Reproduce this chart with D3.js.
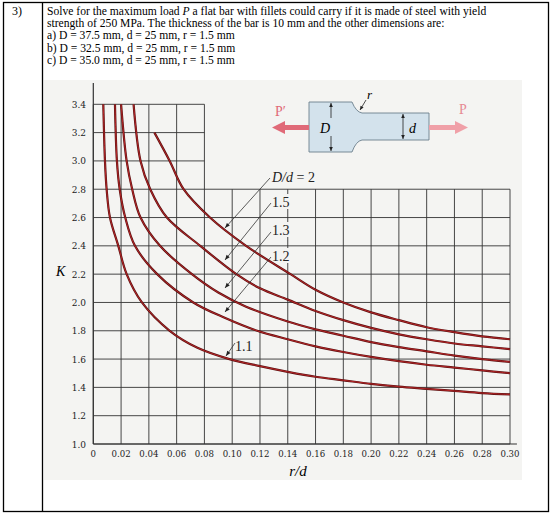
<!DOCTYPE html>
<html><head><meta charset="utf-8">
<script src="https://cdn.jsdelivr.net/npm/d3@7/dist/d3.min.js"></script>
<style>body{margin:0;background:#fff}svg{display:block}</style>
</head><body><svg id="c" width="557" height="527"></svg>
<script>
const problemLines = [
  "Solve for the maximum load P a flat bar with fillets could carry if it is made of steel with yield",
  "strength of 250 MPa. The thickness of the bar is 10 mm and the other dimensions are:",
  "a) D = 37.5 mm, d = 25 mm, r = 1.5 mm",
  "b) D = 32.5 mm, d = 25 mm, r = 1.5 mm",
  "c) D = 35.0 mm, d = 25 mm, r = 1.5 mm"
];
const xTicks = [0,0.02,0.04,0.06,0.08,0.10,0.12,0.14,0.16,0.18,0.20,0.22,0.24,0.26,0.28,0.30];
const xTickLabels = ["0","0.02","0.04","0.06","0.08","0.10","0.12","0.14","0.16","0.18","0.20","0.22","0.24","0.26","0.28","0.30"];
const yTicks = [1.0,1.2,1.4,1.6,1.8,2.0,2.2,2.4,2.6,2.8,3.0,3.2,3.4];
const seriesNames = ["D/d = 2","1.5","1.3","1.2","1.1"];
const s2  = [[0.044,3.2],[0.055,3.0],[0.065,2.8],[0.084,2.6],[0.11,2.4],[0.142,2.2],[0.16,2.09],[0.18,2.0],[0.20,1.93],[0.22,1.875],[0.24,1.825],[0.26,1.79],[0.28,1.76],[0.30,1.74]];
const s15 = [[0.029,3.4],[0.034,3.0],[0.041,2.8],[0.053,2.6],[0.077,2.4],[0.103,2.2],[0.12,2.1],[0.14,2.02],[0.16,1.94],[0.18,1.875],[0.20,1.82],[0.22,1.775],[0.24,1.74],[0.26,1.71],[0.28,1.69],[0.30,1.67]];
const s13 = [[0.020,3.4],[0.024,3.0],[0.028,2.8],[0.034,2.6],[0.048,2.4],[0.071,2.2],[0.09,2.07],[0.11,1.97],[0.14,1.865],[0.16,1.81],[0.18,1.765],[0.20,1.72],[0.22,1.685],[0.24,1.655],[0.26,1.625],[0.28,1.60],[0.30,1.58]];
const s12 = [[0.0156,3.4],[0.017,3.0],[0.019,2.8],[0.023,2.6],[0.030,2.4],[0.046,2.2],[0.072,2.0],[0.095,1.89],[0.118,1.8],[0.14,1.74],[0.16,1.69],[0.18,1.65],[0.20,1.615],[0.22,1.585],[0.24,1.56],[0.26,1.54],[0.28,1.52],[0.30,1.50]];
const s11 = [[0.0072,3.4],[0.0084,3.0],[0.0096,2.8],[0.012,2.6],[0.018,2.4],[0.024,2.2],[0.035,2.0],[0.055,1.8],[0.075,1.68],[0.098,1.6],[0.12,1.55],[0.14,1.51],[0.16,1.475],[0.18,1.45],[0.20,1.425],[0.22,1.405],[0.24,1.39],[0.26,1.375],[0.28,1.36],[0.30,1.35]];
const series = [s2,s15,s13,s12,s11];

const tf="'Times New Roman','Liberation Serif',serif";
const svg = d3.select("#c");
svg.append("rect").attr("x",3.5).attr("y",2.5).attr("width",545).attr("height",509).attr("fill","none").attr("stroke","#000").attr("stroke-width",1.3);
svg.append("line").attr("x1",42.5).attr("x2",42.5).attr("y1",2.5).attr("y2",511.5).attr("stroke","#000").attr("stroke-width",1.3);
svg.append("text").attr("x",12).attr("y",15).attr("font-family",tf).attr("font-size",12).text("3)");
svg.selectAll("text.p").data(problemLines).join("text").attr("class","p")
  .attr("x",47).attr("y",(d,i)=>15+i*12.2).attr("font-family",tf).attr("font-size",11.6)
  .each(function(d){
    const t=d3.select(this);
    if(d.indexOf(" load P ")>=0){const parts=d.split(" load P ");t.append("tspan").text(parts[0]+" load ");t.append("tspan").attr("font-style","italic").text("P");t.append("tspan").text(" "+parts[1]);}
    else t.text(d);
  });

svg.append("rect").attr("x",44).attr("y",80).attr("width",478).attr("height",400).attr("fill","#f4f4f2");

const x = d3.scaleLinear().domain([0,0.30]).range([93.3,510]);
const y = d3.scaleLinear().domain([1.0,3.4]).range([444,104.3]);
const g = svg.append("g");
const gc="#333";
xTicks.forEach(t=>{
  const top = t<=0.0801 ? y(3.4) : y(2.8);
  g.append("line").attr("x1",x(t)).attr("x2",x(t)).attr("y1",top).attr("y2",y(1.0)).attr("stroke",gc).attr("stroke-width",0.9);
});
yTicks.forEach(t=>{
  const right = t>2.81 ? x(0.08) : x(0.30);
  g.append("line").attr("x1",x(0)).attr("x2",right).attr("y1",y(t)).attr("y2",y(t)).attr("stroke",gc).attr("stroke-width",0.9);
});
g.append("line").attr("x1",x(0)).attr("x2",x(0)).attr("y1",83).attr("y2",y(1.0)).attr("stroke",gc).attr("stroke-width",1.2);
g.append("line").attr("x1",x(0)).attr("x2",x(0.305)).attr("y1",y(1.0)).attr("y2",y(1.0)).attr("stroke",gc).attr("stroke-width",1.2);

const sf="'DejaVu Serif','Liberation Serif',serif";
g.selectAll("text.yt").data(yTicks).join("text").attr("class","yt").attr("x",86).attr("y",d=>y(d)+3.5)
  .attr("text-anchor","end").attr("font-family",sf).attr("font-size",9).attr("fill","#222").text(d=>d.toFixed(1));
g.selectAll("text.xt").data(xTicks).join("text").attr("class","xt").attr("x",d=>x(d)).attr("y",y(1.0)+13)
  .attr("text-anchor","middle").attr("font-family",sf).attr("font-size",8.6).attr("fill","#222").text((d,i)=>xTickLabels[i]);
g.append("text").attr("x",298).attr("y",476).attr("text-anchor","middle").attr("font-family",tf).attr("font-style","italic").attr("font-size",15).text("r/d");
g.append("text").attr("x",56).attr("y",276).attr("font-family",tf).attr("font-style","italic").attr("font-size",14).text("K");

const labels=[{t:"D/d = 2",x:272,y:182,w:62},{t:"1.5",x:272,y:207,w:24},{t:"1.3",x:272,y:235,w:24},{t:"1.2",x:272,y:261,w:24},{t:"1.1",x:235,y:351,w:22}];
labels.forEach(l=>{
  g.append("rect").attr("x",l.x-1).attr("y",l.y-13).attr("width",l.w).attr("height",15).attr("fill","#f4f4f2");
});
const lineX=d3.line().x(d=>x(d[0])).y(d=>y(d[1])).curve(d3.curveCatmullRom.alpha(0.5));
series.forEach(s=>{
  g.append("path").attr("d",lineX(s)).attr("fill","none").attr("stroke","#5a1010").attr("stroke-width",2.2);
  g.append("path").attr("d",lineX(s)).attr("fill","none").attr("stroke","#c0282a").attr("stroke-width",0.9);
});
const leaders=[[270,178,225,228],[271,203,225,260],[271,232,225,288],[271,257,225,312],[235,343,226,356]];
leaders.forEach(a=>{
  g.append("line").attr("x1",a[0]).attr("y1",a[1]).attr("x2",a[2]).attr("y2",a[3]).attr("stroke","#333").attr("stroke-width",0.8);
  const ang=Math.atan2(a[3]-a[1],a[2]-a[0]);
  const L=5,W=2;
  const bx=a[2]-L*Math.cos(ang), by=a[3]-L*Math.sin(ang);
  g.append("path").attr("d",`M${a[2]},${a[3]}L${bx-W*Math.sin(ang)},${by+W*Math.cos(ang)}L${bx+W*Math.sin(ang)},${by-W*Math.cos(ang)}Z`).attr("fill","#222");
});
labels.forEach((l,i)=>{
  const t=g.append("text").attr("x",l.x).attr("y",l.y).attr("font-family",tf).attr("font-size",14).attr("fill","#222");
  if(i===0){t.append("tspan").attr("font-style","italic").text("D/d");t.append("tspan").text(" = 2");}
  else t.text(seriesNames[i]);
});

const pc="#e06a78";
g.append("path").attr("d","M309,102H352Q356,112 362,113H429V140H362Q356,141 352,152H309Z").attr("fill","#d3e2ec").attr("stroke","#6b7f8c").attr("stroke-width",0.9);
g.append("path").attr("d","M309,125H285V121L272,127.5L285,134V130H309Z").attr("fill",pc);
g.append("path").attr("d","M429,125H455V121L468,127.5L455,134V130H429Z").attr("fill","#f0a0a8");
g.append("text").attr("x",275).attr("y",116).attr("font-family",tf).attr("font-size",14).attr("fill",pc).text("P′");
g.append("text").attr("x",459).attr("y",114).attr("font-family",tf).attr("font-size",14).attr("fill","#e68a94").text("P");
g.append("text").attr("x",320).attr("y",133).attr("font-family",tf).attr("font-style","italic").attr("font-size",14).text("D");
g.append("text").attr("x",409).attr("y",133).attr("font-family",tf).attr("font-style","italic").attr("font-size",14).text("d");
g.append("text").attr("x",367).attr("y",99).attr("font-family",tf).attr("font-style","italic").attr("font-size",13).text("r");
function arr(x1,y1,x2,y2){
  g.append("line").attr("x1",x1).attr("y1",y1).attr("x2",x2).attr("y2",y2).attr("stroke","#222").attr("stroke-width",0.8);
  const ang=Math.atan2(y2-y1,x2-x1),L=4,W=1.8,bx=x2-L*Math.cos(ang),by=y2-L*Math.sin(ang);
  g.append("path").attr("d",`M${x2},${y2}L${bx-W*Math.sin(ang)},${by+W*Math.cos(ang)}L${bx+W*Math.sin(ang)},${by-W*Math.cos(ang)}Z`).attr("fill","#222");
}
arr(331,118,331,103);arr(331,136,331,151);
arr(403,127,403,114);arr(403,127,403,139);
arr(366,100,360,110);
</script></body></html>
